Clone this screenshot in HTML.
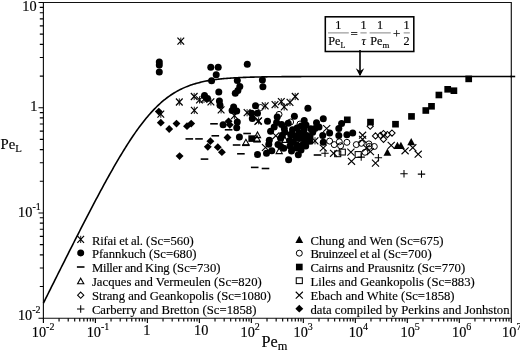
<!DOCTYPE html>
<html><head><meta charset="utf-8"><title>PeL vs Pem</title>
<style>html,body{margin:0;padding:0;background:#fff;overflow:hidden}svg{display:block}text{font-family:"Liberation Serif","Times New Roman",serif;fill:#000;stroke:#000;stroke-width:0.15px}</style></head><body>
<svg width="520" height="350" viewBox="0 0 520 350">
<rect x="0" y="0" width="520" height="350" fill="#fff"/>
<defs>
<g id="ast"><path d="M-3.35,-3.5L3.35,3.5M3.35,-3.5L-3.35,3.5" stroke="#000" stroke-width="1.2" fill="none"/><path d="M0,-3.6V3.6" stroke="#000" stroke-width="0.9" fill="none"/></g>
<circle id="fc" r="3.5" fill="#000"/>
<path id="da" d="M-3.8,0H3.8" stroke="#000" stroke-width="1.6" fill="none"/>
<path id="ot" d="M0,-2.8L3.1,2.8H-3.1Z" stroke="#000" stroke-width="1.1" fill="none"/>
<path id="od" d="M0,-3.1L3.1,0L0,3.1L-3.1,0Z" stroke="#000" stroke-width="1.05" fill="none"/>
<path id="pl" d="M-3.7,0H3.7M0,-3.7V3.7" stroke="#000" stroke-width="1.05" fill="none"/>
<path id="ft" d="M0,-4L3.9,3.2H-3.9Z" fill="#000"/>
<circle id="oc" r="3" stroke="#000" stroke-width="1" fill="none"/>
<rect id="fs" x="-3.35" y="-3.3" width="6.7" height="6.6" fill="#000"/>
<rect id="os" x="-3.05" y="-2.9" width="6.1" height="5.8" stroke="#000" stroke-width="1.05" fill="none"/>
<path id="xx" d="M-3.55,-3.45L3.55,3.45M3.55,-3.45L-3.55,3.45" stroke="#000" stroke-width="1.1" fill="none"/>
<path id="fd" d="M0,-3.9L3.95,0L0,3.9L-3.95,0Z" fill="#000"/>
</defs>
<path d="M43.4,2.5H511.3V318.2H43.4Z" fill="none" stroke="#111" stroke-width="1.15"/>
<path d="M43.40,318.2v4.7M59.05,318.2v3.4M68.21,318.2v3.4M74.70,318.2v3.4M79.74,318.2v3.4M83.86,318.2v3.4M87.34,318.2v3.4M90.35,318.2v3.4M93.01,318.2v3.4M95.39,318.2v4.7M111.04,318.2v3.4M120.19,318.2v3.4M126.69,318.2v3.4M131.73,318.2v3.4M135.84,318.2v3.4M139.32,318.2v3.4M142.34,318.2v3.4M145.00,318.2v3.4M147.38,318.2v4.7M163.03,318.2v3.4M172.18,318.2v3.4M178.68,318.2v3.4M183.72,318.2v3.4M187.83,318.2v3.4M191.31,318.2v3.4M194.33,318.2v3.4M196.99,318.2v3.4M199.37,318.2v4.7M215.02,318.2v3.4M224.17,318.2v3.4M230.67,318.2v3.4M235.71,318.2v3.4M239.82,318.2v3.4M243.30,318.2v3.4M246.32,318.2v3.4M248.98,318.2v3.4M251.36,318.2v4.7M267.01,318.2v3.4M276.16,318.2v3.4M282.66,318.2v3.4M287.69,318.2v3.4M291.81,318.2v3.4M295.29,318.2v3.4M298.31,318.2v3.4M300.97,318.2v3.4M303.34,318.2v4.7M318.99,318.2v3.4M328.15,318.2v3.4M334.64,318.2v3.4M339.68,318.2v3.4M343.80,318.2v3.4M347.28,318.2v3.4M350.30,318.2v3.4M352.95,318.2v3.4M355.33,318.2v4.7M370.98,318.2v3.4M380.14,318.2v3.4M386.63,318.2v3.4M391.67,318.2v3.4M395.79,318.2v3.4M399.27,318.2v3.4M402.28,318.2v3.4M404.94,318.2v3.4M407.32,318.2v4.7M422.97,318.2v3.4M432.13,318.2v3.4M438.62,318.2v3.4M443.66,318.2v3.4M447.78,318.2v3.4M451.26,318.2v3.4M454.27,318.2v3.4M456.93,318.2v3.4M459.31,318.2v4.7M474.96,318.2v3.4M484.12,318.2v3.4M490.61,318.2v3.4M495.65,318.2v3.4M499.77,318.2v3.4M503.25,318.2v3.4M506.26,318.2v3.4M508.92,318.2v3.4M511.30,318.2v4.7M43.4,318.20h-4.9M43.4,286.52h-3.6M43.4,267.99h-3.6M43.4,254.84h-3.6M43.4,244.65h-3.6M43.4,236.31h-3.6M43.4,229.27h-3.6M43.4,223.16h-3.6M43.4,217.78h-3.6M43.4,212.97h-4.9M43.4,181.29h-3.6M43.4,162.76h-3.6M43.4,149.61h-3.6M43.4,139.41h-3.6M43.4,131.08h-3.6M43.4,124.03h-3.6M43.4,117.93h-3.6M43.4,112.55h-3.6M43.4,107.73h-4.9M43.4,76.05h-3.6M43.4,57.52h-3.6M43.4,44.38h-3.6M43.4,34.18h-3.6M43.4,25.85h-3.6M43.4,18.80h-3.6M43.4,12.70h-3.6M43.4,7.32h-3.6M43.4,2.50h-4.9" fill="none" stroke="#000" stroke-width="1.15"/>
<polyline points="43.40,303.14 44.57,300.79 45.74,298.44 46.91,296.10 48.08,293.75 49.25,291.40 50.42,289.05 51.59,286.71 52.76,284.37 53.93,282.02 55.10,279.68 56.27,277.34 57.44,275.01 58.61,272.67 59.78,270.34 60.95,268.00 62.12,265.67 63.29,263.34 64.46,261.02 65.63,258.69 66.80,256.37 67.96,254.05 69.13,251.73 70.30,249.42 71.47,247.10 72.64,244.79 73.81,242.49 74.98,240.18 76.15,237.88 77.32,235.59 78.49,233.29 79.66,231.00 80.83,228.72 82.00,226.44 83.17,224.16 84.34,221.89 85.51,219.62 86.68,217.36 87.85,215.10 89.02,212.85 90.19,210.61 91.36,208.37 92.53,206.14 93.70,203.91 94.87,201.69 96.04,199.48 97.21,197.28 98.38,195.08 99.55,192.90 100.72,190.72 101.89,188.55 103.06,186.39 104.23,184.24 105.40,182.11 106.57,179.98 107.74,177.86 108.91,175.76 110.08,173.67 111.25,171.59 112.42,169.52 113.59,167.47 114.75,165.43 115.92,163.41 117.09,161.41 118.26,159.42 119.43,157.44 120.60,155.49 121.77,153.55 122.94,151.63 124.11,149.73 125.28,147.85 126.45,145.99 127.62,144.15 128.79,142.33 129.96,140.53 131.13,138.76 132.30,137.01 133.47,135.29 134.64,133.58 135.81,131.91 136.98,130.26 138.15,128.63 139.32,127.04 140.49,125.47 141.66,123.92 142.83,122.41 144.00,120.92 145.17,119.46 146.34,118.04 147.51,116.64 148.68,115.27 149.85,113.93 151.02,112.62 152.19,111.34 153.36,110.10 154.53,108.88 155.70,107.69 156.87,106.54 158.04,105.41 159.21,104.32 160.38,103.25 161.54,102.22 162.71,101.21 163.88,100.24 165.05,99.30 166.22,98.38 167.39,97.49 168.56,96.64 169.73,95.81 170.90,95.01 172.07,94.23 173.24,93.48 174.41,92.76 175.58,92.07 176.75,91.39 177.92,90.75 179.09,90.13 180.26,89.53 181.43,88.95 182.60,88.40 183.77,87.87 184.94,87.36 186.11,86.87 187.28,86.40 188.45,85.94 189.62,85.51 190.79,85.10 191.96,84.70 193.13,84.32 194.30,83.96 195.47,83.61 196.64,83.27 197.81,82.95 198.98,82.65 200.15,82.36 201.32,82.08 202.49,81.81 203.66,81.56 204.83,81.32 206.00,81.09 207.17,80.87 208.33,80.66 209.50,80.46 210.67,80.26 211.84,80.08 213.01,79.91 214.18,79.74 215.35,79.58 216.52,79.43 217.69,79.29 218.86,79.15 220.03,79.02 221.20,78.90 222.37,78.78 223.54,78.67 224.71,78.56 225.88,78.46 227.05,78.36 228.22,78.27 229.39,78.18 230.56,78.10 231.73,78.02 232.90,77.95 234.07,77.87 235.24,77.81 236.41,77.74 237.58,77.68 238.75,77.62 239.92,77.57 241.09,77.51 242.26,77.46 243.43,77.41 244.60,77.37 245.77,77.33 246.94,77.28 248.11,77.25 249.28,77.21 250.45,77.17 251.62,77.14 252.79,77.11 253.96,77.08 255.12,77.05 256.29,77.02 257.46,77.00 258.63,76.97 259.80,76.95 260.97,76.93 262.14,76.90 263.31,76.88 264.48,76.86 265.65,76.85 266.82,76.83 267.99,76.81 269.16,76.80 270.33,76.78 271.50,76.77 272.67,76.76 273.84,76.74 275.01,76.73 276.18,76.72 277.35,76.71 278.52,76.70 279.69,76.69 280.86,76.68 282.03,76.67 283.20,76.66 284.37,76.65 285.54,76.65 286.71,76.64 287.88,76.63 289.05,76.63 290.22,76.62 291.39,76.61 292.56,76.61 293.73,76.60 294.90,76.60 296.07,76.59 297.24,76.59 298.41,76.59 299.58,76.58 300.75,76.58 301.91,76.57 303.08,76.57 304.25,76.57 305.42,76.56 306.59,76.56 307.76,76.56 308.93,76.56 310.10,76.55 311.27,76.55 312.44,76.55 313.61,76.55 314.78,76.54 315.95,76.54 317.12,76.54 318.29,76.54 319.46,76.54 320.63,76.53 321.80,76.53 322.97,76.53 324.14,76.53 325.31,76.53 326.48,76.53 327.65,76.53 328.82,76.53 329.99,76.52 331.16,76.52 332.33,76.52 333.50,76.52 334.67,76.52 335.84,76.52 337.01,76.52 338.18,76.52 339.35,76.52 340.52,76.52 341.69,76.52 342.86,76.52 344.03,76.52 345.20,76.52 346.37,76.51 347.53,76.51 348.70,76.51 349.87,76.51 351.04,76.51 352.21,76.51 353.38,76.51 354.55,76.51 355.72,76.51 356.89,76.51 358.06,76.51 359.23,76.51 360.40,76.51 361.57,76.51 362.74,76.51 363.91,76.51 365.08,76.51 366.25,76.51 367.42,76.51 368.59,76.51 369.76,76.51 370.93,76.51 372.10,76.51 373.27,76.51 374.44,76.51 375.61,76.51 376.78,76.51 377.95,76.51 379.12,76.51 380.29,76.51 381.46,76.51 382.63,76.51 383.80,76.51 384.97,76.51 386.14,76.51 387.31,76.51 388.48,76.51 389.65,76.51 390.82,76.51 391.99,76.51 393.16,76.51 394.32,76.51 395.49,76.51 396.66,76.51 397.83,76.51 399.00,76.51 400.17,76.51 401.34,76.51 402.51,76.51 403.68,76.51 404.85,76.51 406.02,76.51 407.19,76.51 408.36,76.51 409.53,76.51 410.70,76.51 411.87,76.51 413.04,76.51 414.21,76.51 415.38,76.51 416.55,76.51 417.72,76.51 418.89,76.51 420.06,76.51 421.23,76.51 422.40,76.51 423.57,76.51 424.74,76.51 425.91,76.51 427.08,76.51 428.25,76.51 429.42,76.51 430.59,76.51 431.76,76.51 432.93,76.51 434.10,76.51 435.27,76.51 436.44,76.51 437.61,76.51 438.78,76.51 439.95,76.51 441.12,76.51 442.28,76.51 443.45,76.51 444.62,76.51 445.79,76.51 446.96,76.51 448.13,76.51 449.30,76.51 450.47,76.51 451.64,76.51 452.81,76.51 453.98,76.51 455.15,76.51 456.32,76.51 457.49,76.51 458.66,76.51 459.83,76.51 461.00,76.51 462.17,76.51 463.34,76.50 464.51,76.50 465.68,76.50 466.85,76.50 468.02,76.50 469.19,76.50 470.36,76.50 471.53,76.50 472.70,76.50 473.87,76.50 475.04,76.50 476.21,76.50 477.38,76.50 478.55,76.50 479.72,76.50 480.89,76.50 482.06,76.50 483.23,76.50 484.40,76.50 485.57,76.50 486.74,76.50 487.91,76.50 489.07,76.50 490.24,76.50 491.41,76.50 492.58,76.50 493.75,76.50 494.92,76.50 496.09,76.50 497.26,76.50 498.43,76.50 499.60,76.50 500.77,76.50 501.94,76.50 503.11,76.50 504.28,76.50 505.45,76.50 506.62,76.50 507.79,76.50 508.96,76.50 510.13,76.50 511.30,76.50" fill="none" stroke="#000" stroke-width="1.6"/>
<path d="M510.3,76.50H515.2" stroke="#000" stroke-width="1.6"/>
<g><use href="#da" x="214.0" y="123.8"/><use href="#da" x="189.3" y="138.9"/><use href="#da" x="199.0" y="138.9"/><use href="#da" x="215.3" y="135.8"/><use href="#da" x="204.5" y="159.1"/><use href="#da" x="228.6" y="129.8"/><use href="#da" x="236.6" y="145.0"/><use href="#da" x="247.1" y="133.5"/><use href="#da" x="240.9" y="153.8"/><use href="#da" x="254.7" y="167.4"/><use href="#da" x="265.5" y="168.5"/><use href="#da" x="317.5" y="155.0"/><use href="#da" x="257.0" y="141.8"/><use href="#da" x="245.8" y="145.3"/></g>
<g><use href="#pl" x="378.4" y="157.8"/><use href="#pl" x="361.2" y="157.1"/><use href="#pl" x="404.0" y="173.8"/><use href="#pl" x="421.5" y="174.1"/><use href="#pl" x="325.0" y="153.3"/></g>
<g><use href="#xx" x="391.2" y="145.4"/><use href="#xx" x="405.1" y="150.8"/><use href="#xx" x="412.8" y="147.7"/><use href="#xx" x="418.2" y="154.2"/><use href="#xx" x="375.5" y="163.1"/><use href="#xx" x="362.6" y="135.2"/><use href="#xx" x="362.6" y="139.3"/><use href="#xx" x="370.4" y="151.6"/><use href="#xx" x="326.7" y="128.5"/><use href="#xx" x="333.6" y="153.3"/><use href="#xx" x="350.9" y="152.1"/><use href="#xx" x="351.5" y="161.3"/><use href="#xx" x="323.3" y="148.0"/><use href="#xx" x="366.5" y="148.0"/><use href="#xx" x="258.0" y="121.3"/><use href="#xx" x="275.8" y="135.8"/><use href="#xx" x="265.5" y="147.5"/></g>
<g><use href="#ast" x="180.8" y="41.2"/><use href="#ast" x="179.3" y="102.0"/><use href="#ast" x="194.2" y="96.5"/><use href="#ast" x="199.5" y="99.9"/><use href="#ast" x="194.3" y="110.3"/><use href="#ast" x="160.8" y="114.2"/><use href="#ast" x="210.9" y="101.9"/><use href="#ast" x="204.0" y="99.3"/><use href="#ast" x="221.1" y="109.8"/><use href="#ast" x="247.1" y="112.7"/><use href="#ast" x="258.6" y="120.8"/><use href="#ast" x="265.2" y="105.8"/><use href="#ast" x="275.0" y="104.6"/><use href="#ast" x="281.3" y="101.7"/><use href="#ast" x="284.2" y="106.9"/><use href="#ast" x="290.0" y="102.3"/><use href="#ast" x="295.2" y="96.5"/><use href="#ast" x="315.0" y="140.8"/><use href="#ast" x="234.4" y="115.6"/></g>
<g><use href="#ot" x="245.9" y="142.1"/><use href="#ot" x="257.5" y="134.8"/><use href="#ot" x="257.0" y="138.3"/><use href="#ot" x="284.9" y="139.6"/><use href="#ot" x="279.2" y="150.8"/></g>
<g><use href="#od" x="370.2" y="126.2"/><use href="#od" x="375.5" y="135.9"/><use href="#od" x="380.4" y="135.4"/><use href="#od" x="383.5" y="133.6"/><use href="#od" x="383.5" y="139.3"/><use href="#od" x="387.4" y="134.6"/><use href="#od" x="392.0" y="133.1"/></g>
<g><use href="#os" x="342.3" y="152.1"/><use href="#os" x="358.2" y="154.5"/><use href="#os" x="337.7" y="153.8"/></g>
<g><use href="#oc" x="368.9" y="143.9"/><use href="#oc" x="374.3" y="146.5"/><use href="#oc" x="361.4" y="143.3"/><use href="#oc" x="356.3" y="144.6"/><use href="#oc" x="365.0" y="152.3"/><use href="#oc" x="334.2" y="144.6"/><use href="#oc" x="340.6" y="145.8"/><use href="#oc" x="329.6" y="141.1"/><use href="#oc" x="346.9" y="142.3"/><use href="#oc" x="279.0" y="114.4"/><use href="#oc" x="290.6" y="122.0"/><use href="#oc" x="300.0" y="124.0"/><use href="#oc" x="260.6" y="107.5"/><use href="#oc" x="339.3" y="141.8"/><use href="#oc" x="369.3" y="146.4"/></g>
<g><use href="#fd" x="158.8" y="111.6"/><use href="#fd" x="160.8" y="122.7"/><use href="#fd" x="169.2" y="129.0"/><use href="#fd" x="176.5" y="123.6"/><use href="#fd" x="187.0" y="126.2"/><use href="#fd" x="191.2" y="123.6"/><use href="#fd" x="179.6" y="156.1"/><use href="#fd" x="210.4" y="141.2"/><use href="#fd" x="207.8" y="146.8"/><use href="#fd" x="217.8" y="147.2"/><use href="#fd" x="221.9" y="152.2"/><use href="#fd" x="228.6" y="121.3"/><use href="#fd" x="229.8" y="124.8"/><use href="#fd" x="227.5" y="137.5"/></g>
<g><use href="#ft" x="387.4" y="152.6"/><use href="#ft" x="397.4" y="145.8"/><use href="#ft" x="400.9" y="145.8"/><use href="#ft" x="411.2" y="142.0"/></g>
<g><use href="#fs" x="468.7" y="78.9"/><use href="#fs" x="453.9" y="90.7"/><use href="#fs" x="447.7" y="89.3"/><use href="#fs" x="438.9" y="95.0"/><use href="#fs" x="431.5" y="106.3"/><use href="#fs" x="425.8" y="110.5"/><use href="#fs" x="411.5" y="116.4"/><use href="#fs" x="347.3" y="119.8"/><use href="#fs" x="370.5" y="122.1"/><use href="#fs" x="395.5" y="124.2"/><use href="#fs" x="251.7" y="138.6"/></g>
<g><use href="#fc" x="159.3" y="62.0"/><use href="#fc" x="159.3" y="64.9"/><use href="#fc" x="159.3" y="71.9"/><use href="#fc" x="210.8" y="67.3"/><use href="#fc" x="218.2" y="67.3"/><use href="#fc" x="216.2" y="74.7"/><use href="#fc" x="211.6" y="80.8"/><use href="#fc" x="247.3" y="64.3"/><use href="#fc" x="237.3" y="80.5"/><use href="#fc" x="239.8" y="86.6"/><use href="#fc" x="237.9" y="90.6"/><use href="#fc" x="235.3" y="93.3"/><use href="#fc" x="262.4" y="80.0"/><use href="#fc" x="262.9" y="86.7"/><use href="#fc" x="218.8" y="91.9"/><use href="#fc" x="204.5" y="95.6"/><use href="#fc" x="207.5" y="98.6"/><use href="#fc" x="219.4" y="101.1"/><use href="#fc" x="220.0" y="105.2"/><use href="#fc" x="233.6" y="106.9"/><use href="#fc" x="232.1" y="110.4"/><use href="#fc" x="236.7" y="111.0"/><use href="#fc" x="255.5" y="105.8"/><use href="#fc" x="251.7" y="113.3"/><use href="#fc" x="257.5" y="113.3"/><use href="#fc" x="252.3" y="118.4"/><use href="#fc" x="237.3" y="121.9"/><use href="#fc" x="223.1" y="124.7"/><use href="#fc" x="236.7" y="127.7"/><use href="#fc" x="239.4" y="136.9"/><use href="#fc" x="257.5" y="154.4"/><use href="#fc" x="266.5" y="153.2"/><use href="#fc" x="271.8" y="150.8"/><use href="#fc" x="278.0" y="144.5"/><use href="#fc" x="283.8" y="148.2"/><use href="#fc" x="270.6" y="131.2"/><use href="#fc" x="307.9" y="108.3"/><use href="#fc" x="294.4" y="116.2"/><use href="#fc" x="277.2" y="117.0"/><use href="#fc" x="267.5" y="121.3"/><use href="#fc" x="304.2" y="120.5"/><use href="#fc" x="316.5" y="122.8"/><use href="#fc" x="323.3" y="118.7"/><use href="#fc" x="274.2" y="127.0"/><use href="#fc" x="292.5" y="129.8"/><use href="#fc" x="290.6" y="134.6"/><use href="#fc" x="301.2" y="126.0"/><use href="#fc" x="306.0" y="125.0"/><use href="#fc" x="310.8" y="128.8"/><use href="#fc" x="302.1" y="132.7"/><use href="#fc" x="306.9" y="135.6"/><use href="#fc" x="299.2" y="138.5"/><use href="#fc" x="309.8" y="141.3"/><use href="#fc" x="303.1" y="144.2"/><use href="#fc" x="293.5" y="142.3"/><use href="#fc" x="296.3" y="148.0"/><use href="#fc" x="291.5" y="151.0"/><use href="#fc" x="298.3" y="154.8"/><use href="#fc" x="288.6" y="159.8"/><use href="#fc" x="312.7" y="132.3"/><use href="#fc" x="305.7" y="146.1"/><use href="#fc" x="300.0" y="147.3"/><use href="#fc" x="322.7" y="135.4"/><use href="#fc" x="323.3" y="142.3"/><use href="#fc" x="329.6" y="133.1"/><use href="#fc" x="338.8" y="128.5"/><use href="#fc" x="338.8" y="135.4"/><use href="#fc" x="346.9" y="134.8"/><use href="#fc" x="352.7" y="133.1"/><use href="#fc" x="341.6" y="123.5"/><use href="#fc" x="319.0" y="127.0"/><use href="#fc" x="315.0" y="128.5"/><use href="#fc" x="304.0" y="130.0"/><use href="#fc" x="293.0" y="135.0"/><use href="#fc" x="307.0" y="141.0"/><use href="#fc" x="297.0" y="128.0"/><use href="#fc" x="299.0" y="133.0"/><use href="#fc" x="296.0" y="137.5"/><use href="#fc" x="304.0" y="138.5"/><use href="#fc" x="310.0" y="137.0"/><use href="#fc" x="297.0" y="145.0"/><use href="#fc" x="301.0" y="150.0"/><use href="#fc" x="276.6" y="122.6"/><use href="#fc" x="281.6" y="124.5"/><use href="#fc" x="284.3" y="128.4"/><use href="#fc" x="284.8" y="132.0"/><use href="#fc" x="282.3" y="135.2"/><use href="#fc" x="280.6" y="138.2"/><use href="#fc" x="288.2" y="123.3"/><use href="#fc" x="269.3" y="140.3"/><use href="#fc" x="268.8" y="144.2"/><use href="#fc" x="280.6" y="146.3"/><use href="#fc" x="290.0" y="146.0"/><use href="#fc" x="289.6" y="140.6"/></g>
<rect x="325.3" y="16.8" width="88.5" height="34.7" fill="#fff" stroke="#000" stroke-width="1.55"/>
<path d="M360,50V75" stroke="#000" stroke-width="1.6" fill="none"/>
<path d="M360,76.2L355.8,68.2L360,71L364.2,68.2Z" fill="#000"/>
<g font-size="12.2px" text-anchor="middle">
<path d="M328,32.9H348.8M360.4,32.9H366.7M369.6,32.9H390.8M403.7,32.9H409.8" stroke="#666" stroke-width="0.8"/>
<text x="338.3" y="29.2">1</text>
<text x="328.3" y="45" text-anchor="start">Pe<tspan font-size="8px" dy="3.3">L</tspan></text>
<text x="354.2" y="38" font-size="13px">=</text>
<text x="363.5" y="29.2">1</text>
<text x="363.6" y="45" font-style="italic">τ</text>
<text x="380" y="29.2">1</text>
<text x="370.2" y="45" text-anchor="start">Pe<tspan font-size="8.8px" dy="2.9">m</tspan></text>
<text x="396.7" y="37.7" font-size="13px">+</text>
<text x="406.6" y="29.2">1</text>
<text x="406.6" y="45">2</text>
</g>
<g font-size="12.7px">
<use href="#ast" x="80.7" y="239.4"/>
<text x="91.9" y="244.75" textLength="51.1" lengthAdjust="spacing">Rifai et al.</text>
<text x="146.1" y="244.75" textLength="47.7" lengthAdjust="spacing">(Sc=560)</text>
<use href="#fc" x="80.7" y="252.9"/>
<text x="91.9" y="258.25" textLength="54.0" lengthAdjust="spacing">Pfannkuch</text>
<text x="149.0" y="258.25" textLength="47.5" lengthAdjust="spacing">(Sc=680)</text>
<use href="#da" x="80.7" y="267"/>
<text x="91.9" y="272.25" textLength="77.7" lengthAdjust="spacing">Miller and King</text>
<text x="172.7" y="272.25" textLength="47.9" lengthAdjust="spacing">(Sc=730)</text>
<use href="#ot" x="80.7" y="281"/>
<text x="91.9" y="285.9" textLength="119.0" lengthAdjust="spacing">Jacques and Vermeulen</text>
<text x="214.0" y="285.9" textLength="47.8" lengthAdjust="spacing">(Sc=820)</text>
<use href="#od" x="80.7" y="295.2"/>
<text x="91.9" y="299.6" textLength="121.9" lengthAdjust="spacing">Strang and Geankopolis</text>
<text x="216.9" y="299.6" textLength="54.0" lengthAdjust="spacing">(Sc=1080)</text>
<use href="#pl" x="80.7" y="309"/>
<text x="91.9" y="313.6" textLength="107.5" lengthAdjust="spacing">Carberry and Bretton</text>
<text x="202.5" y="313.6" textLength="53.9" lengthAdjust="spacing">(Sc=1858)</text>
<use href="#ft" x="299.3" y="239.8"/>
<text x="310.4" y="244.55" textLength="82.2" lengthAdjust="spacing">Chung and Wen</text>
<text x="395.7" y="244.55" textLength="47.9" lengthAdjust="spacing">(Sc=675)</text>
<use href="#oc" x="299.3" y="253.2"/>
<text x="310.4" y="258.35" textLength="70.1" lengthAdjust="spacing">Bruinzeel et al</text>
<text x="383.6" y="258.35" textLength="48.1" lengthAdjust="spacing">(Sc=700)</text>
<use href="#fs" x="299.3" y="267"/>
<text x="310.4" y="272.25" textLength="104.0" lengthAdjust="spacing">Cairns and Prausnitz</text>
<text x="417.5" y="272.25" textLength="47.7" lengthAdjust="spacing">(Sc=770)</text>
<use href="#os" x="299.3" y="280.7"/>
<text x="310.4" y="286.2" textLength="113.6" lengthAdjust="spacing">Liles and Geankopolis</text>
<text x="427.1" y="286.2" textLength="47.7" lengthAdjust="spacing">(Sc=883)</text>
<use href="#xx" x="299.3" y="295.2"/>
<text x="310.4" y="299.7" textLength="87.4" lengthAdjust="spacing">Ebach and White</text>
<text x="400.9" y="299.7" textLength="53.7" lengthAdjust="spacing">(Sc=1858)</text>
<use href="#fd" x="299.3" y="308.7"/>
<text x="310.4" y="313.7" textLength="87.7" lengthAdjust="spacing">data compiled by</text>
<text x="401.2" y="313.7" textLength="60.1" lengthAdjust="spacing">Perkins and</text>
<text x="464.4" y="313.7" textLength="45.1" lengthAdjust="spacing">Jonhston</text>
</g>
<g font-size="14.3px">
<text x="22.3" y="10.7">10</text>
<text x="30.2" y="111">1</text>
<text x="18.1" y="217">10<tspan font-size="10px" dy="-7.4">-1</tspan></text>
<text x="17.9" y="319.9">10<tspan font-size="10px" dy="-6.6">-2</tspan></text>
<text x="143.3" y="335.1">1</text>
<text x="31.8" y="336.8">10<tspan font-size="10px" dy="-6.9">-2</tspan></text>
<text x="86.7" y="336.8">10<tspan font-size="10px" dy="-6.9">-1</tspan></text>
<text x="194.1" y="335.1">10</text>
<text x="240.5" y="336.8">10<tspan font-size="10px" dy="-6.9">2</tspan></text>
<text x="293.5" y="336.8">10<tspan font-size="10px" dy="-6.9">3</tspan></text>
<text x="348.7" y="336.8">10<tspan font-size="10px" dy="-6.9">4</tspan></text>
<text x="400.5" y="336.8">10<tspan font-size="10px" dy="-6.9">5</tspan></text>
<text x="452.0" y="336.8">10<tspan font-size="10px" dy="-6.9">6</tspan></text>
<text x="502.1" y="336.8">10<tspan font-size="10px" dy="-6.9">7</tspan></text>
</g>
<text x="0.6" y="149.2" font-size="14.7px">Pe<tspan font-size="10.8px" dy="3">L</tspan></text>
<text x="261.5" y="347.4" font-size="16.2px">Pe<tspan font-size="12.4px" dy="2.2">m</tspan></text>
</svg></body></html>
